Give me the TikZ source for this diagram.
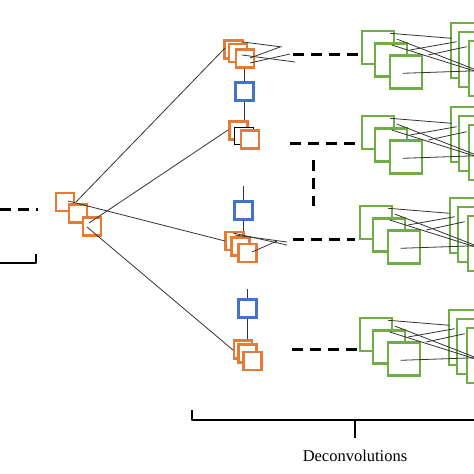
\documentclass[tikz,border=0pt]{standalone}
\usepackage{fontspec}
\setmainfont{Liberation Serif}
\definecolor{sqorange}{HTML}{E57B35}
\definecolor{sqblue}{HTML}{4472C4}
\definecolor{sqgreen}{HTML}{70AD47}
\begin{document}
\begin{tikzpicture}[x=1pt,y=-1pt,
  sq/.style={draw, fill=white, inner sep=0pt, line width=2.8pt, minimum width=18pt, minimum height=18pt},
  osq/.style={sq, draw=sqorange},
  bsq/.style={sq, draw=sqblue},
  ksq/.style={sq, draw=black, line width=1.2pt, minimum width=19pt, minimum height=17pt},
  gl/.style={sq, draw=sqgreen, anchor=north west, line width=2.8pt, minimum width=32pt, minimum height=33pt},
  gr/.style={sq, draw=sqgreen, anchor=north west, line width=2.8pt, minimum width=40pt, minimum height=55pt},
  conn/.style={draw=black!80, line width=0.8pt},
  dline/.style={draw=black, line width=3pt, dash pattern=on 11pt off 7pt},
  brace/.style={draw=black, line width=1.4pt, line join=round}
]
\useasboundingbox (0,0) rectangle (474,474);
\clip (0,0) rectangle (474,474);

% left stack
\node[osq] (c1) at (65,202) {};
\node[osq] (c2) at (78,213.5) {};
\node[osq] (c3) at (92,226.5) {};

% top group
\node[osq] (t1) at (233.5,49.5) {};
\node[osq] (t2) at (238,53) {};
\node[osq] (t3) at (245,58.5) {};
\node[bsq] (b1) at (244.5,91.5) {};
% second group
\node[osq] (u1) at (238.5,130.5) {};
\node[ksq] (u2) at (244,136) {};
\node[osq] (u3) at (250,139.5) {};
% third group
\node[bsq] (b2) at (243.5,210.5) {};
\node[osq] (v1) at (234.5,241) {};
\node[osq] (v2) at (240.5,246.5) {};
\node[osq] (v3) at (247.5,253) {};
% fourth group
\node[bsq] (b3) at (247.5,308.5) {};
\node[osq] (w1) at (243,349.5) {};
\node[osq] (w2) at (247.5,353.5) {};
\node[osq] (w3) at (252.5,361) {};

% vertical links
\draw[conn] (b1.north) -- (b1.north |- t3.south);
\draw[conn] (b1.south) -- (b1.south |- u1.north);
\coordinate (b2top) at (243.5,186);
\draw[conn] (b2.north) -- (b2top);
\draw[conn] (b2.south) -- (b2.south |- v1.north);
\coordinate (b3top) at (247.5,289);
\draw[conn] (b3.north) -- (b3top);
\draw[conn] (b3.south) -- (b3.south |- w1.north);

% fan from left stack
\coordinate (f1) at (76,202);
\coordinate (f2) at (89,223);
\coordinate (f3) at (68,201);
\coordinate (f4) at (87,227);
\coordinate (e1) at (225,48);
\coordinate (e2) at (228,130);
\coordinate (e3) at (225,241);
\coordinate (e4) at (233,350);
\draw[conn] (f1) -- (e1);
\draw[conn] (f2) -- (e2);
\draw[conn] (f3) -- (e3);
\draw[conn] (f4) -- (e4);

% small fans
\draw[conn] (243,42) -- (282,47);
\draw[conn] (242,55) -- (295,62);
\draw[conn] (250,58) -- (280,47);
\draw[conn] (250,63) -- (290,54);
\draw[conn] (233,233) -- (287,245);
\draw[conn] (235,235) -- (287,242);
\draw[conn] (252,252) -- (277,241);

% green groups
\foreach \g/\x/\y/\rx/\ry in {1/359/28/449.5/21.5, 2/359/113/449.5/105.5, 3/357/203/448.5/196.5, 4/357/315/447.5/308.5}{
  \node[gr] (gr\g a) at (\rx,\ry) {};
  \node[gr] (gr\g b) at (\rx+8,\ry+9) {};
  \node[gr] (gr\g c) at (\rx+18,\ry+18) {};
  \node[gl] (gl\g a) at (\x+1.5,\y+1.5) {};
  \node[gl] (gl\g b) at (\x+14.5,\y+14) {};
  \node[gl] (gl\g c) at (\x+29.5,\y+26) {};
  \begin{scope}[shift={(\x,\y)}]
    \draw[conn] (31,5.3) -- (92.7,10.3);
    \draw[conn] (37.7,11) -- (125,45);
    \draw[conn] (32.7,17) -- (125,46);
    \draw[conn] (51,22) -- (97.7,13.7);
    \draw[conn] (69.3,27) -- (107.7,18.7);
    \draw[conn] (43.7,45.3) -- (125,42.5);
  \end{scope}
}

% dashed lines
\draw[dline] (0,209) -- (38,209);
\draw[dline] (293,54) -- (358,54);
\draw[dline] (290,143) -- (355,143);
\draw[dline] (293,239) -- (355,239);
\draw[dline] (292,349) -- (357,349);
\draw[dline] (313,160) -- (313,206);

% brackets
\draw[brace] (0,263) -- (36,263) -- (36,254);
\draw[brace] (192,410) -- (192,420) -- (474,420);
\draw[brace] (355,420) -- (355,438);
\node[font=\fontsize{16.5}{18}\selectfont] (lbl) at (355,456) {Deconvolutions};
\end{tikzpicture}
\end{document}
